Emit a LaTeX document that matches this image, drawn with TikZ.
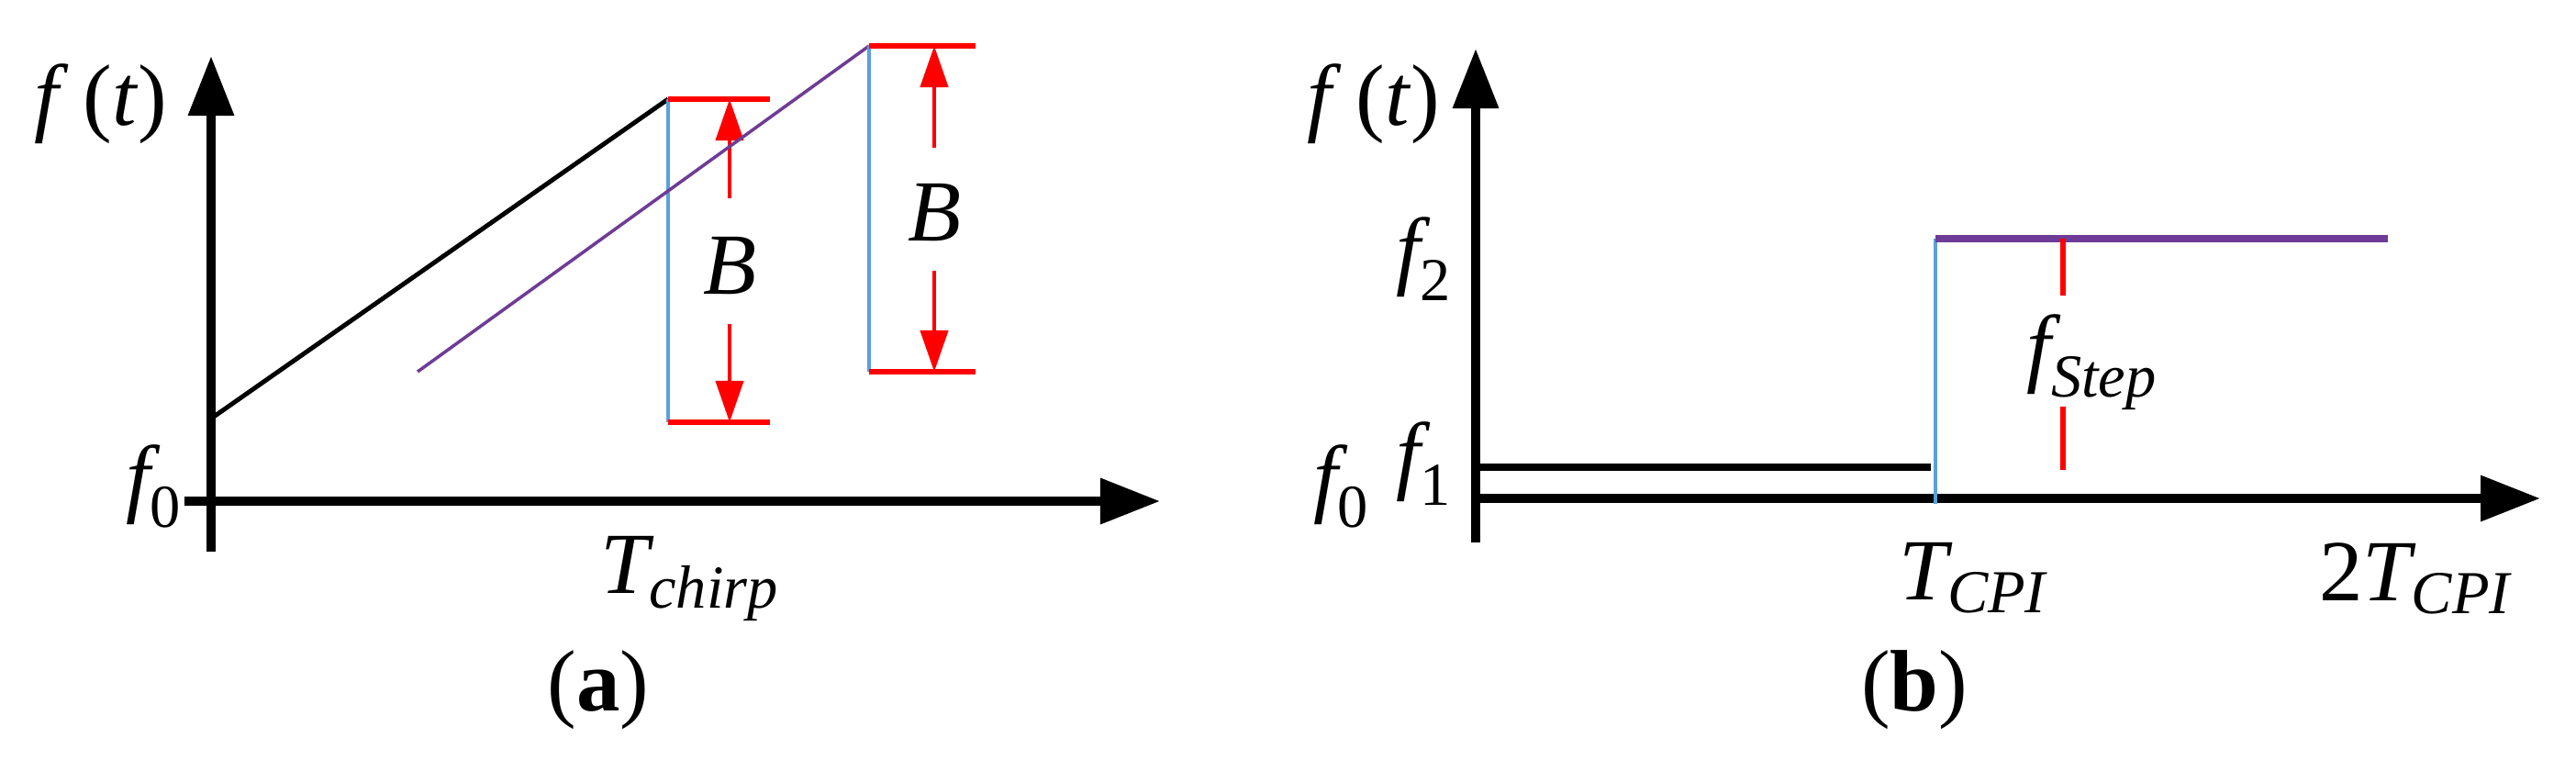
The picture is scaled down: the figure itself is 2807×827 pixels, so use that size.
\documentclass[tikz,border=0pt]{standalone}
\usepackage{amsmath}
\usepackage{fontspec}
\setmainfont{Liberation Serif}
\usetikzlibrary{arrows.meta}
\tikzset{
 axis/.style={line width=2.8pt,-{Triangle[length=0.65cm,width=0.48cm]}},
 redarr/.style={red,line width=1.2pt,-{Triangle[length=0.45cm,width=0.3cm]}},
 redbar/.style={red,line width=1.6pt},
 blueln/.style={color={rgb,255:red,90;green,160;blue,220},line width=1.1pt},
 purpln/.style={color={rgb,255:red,110;green,60;blue,150},line width=1pt},
 lbl/.style={font=\fontsize{27}{32}\selectfont,inner sep=0pt},
 captext/.style={font=\fontsize{27}{32}\selectfont,inner sep=0pt}
}
\begin{document}
\begin{tikzpicture}[x=0.01cm,y=-0.01cm]
\useasboundingbox (0,0) rectangle (2807,827);
% ---- panel (a)
\coordinate (ay0) at (230,601); \coordinate (ay1) at (230,61);
\coordinate (ax0) at (201,546); \coordinate (ax1) at (1264,546);
\draw[axis] (ay0) -- (ay1);
\draw[axis] (ax0) -- (ax1);
\coordinate (k0) at (230,456); \coordinate (k1) at (728,108);
\draw[line width=1.4pt] (k0) -- (k1);
\coordinate (kb) at (728,460);
\draw[blueln] (k1) -- (kb);
\coordinate (r1a) at (839,108); \coordinate (r1b) at (839,460);
\draw[redbar] (k1) -- (r1a); \draw[redbar] (kb) -- (r1b);
\coordinate (a1s) at (795,216); \coordinate (a1e) at (795,108);
\coordinate (a1t) at (795,353); \coordinate (a1f) at (795,460);
\draw[redarr] (a1s) -- (a1e); \draw[redarr] (a1t) -- (a1f);
\node[lbl] (B1) at (795,290) {\textit{B}};
\coordinate (p0) at (455,405); \coordinate (p1) at (947,50);
\draw[purpln] (p0) -- (p1);
\coordinate (pb) at (947,405);
\draw[blueln] (p1) -- (pb);
\coordinate (r2a) at (1063,50); \coordinate (r2b) at (1063,405);
\draw[redbar] (p1) -- (r2a); \draw[redbar] (pb) -- (r2b);
\coordinate (a2s) at (1018,161); \coordinate (a2e) at (1018,50);
\coordinate (a2t) at (1018,295); \coordinate (a2f) at (1018,405);
\draw[redarr] (a2s) -- (a2e); \draw[redarr] (a2t) -- (a2f);
\node[lbl] (B2) at (1018,232) {\textit{B}};
\node[lbl] (fta) at (110,113) {\textit{f}\,(\textit{t})};
\node[lbl] (f0a) at (168,530) {$\textit{f}_{\textrm{0}}$};
\node[lbl] (Tch) at (752,630) {$\textit{T}_{\textit{chirp}}$};
\node[captext] (capa) at (652,752) {(\textbf{a})};
% ---- panel (b)
\coordinate (by0) at (1608,591); \coordinate (by1) at (1608,53);
\coordinate (bx0) at (1608,543); \coordinate (bx1) at (2768,543);
\draw[axis] (by0) -- (by1);
\draw[axis] (bx0) -- (bx1);
\coordinate (l0) at (1608,509); \coordinate (l1) at (2104,509);
\draw[line width=2pt] (l0) -- (l1);
\coordinate (s0) at (2109,549); \coordinate (s1) at (2109,260);
\draw[blueln] (s0) -- (s1);
\coordinate (h1) at (2602,260);
\draw[purpln,line width=2.4pt] (s1) -- (h1);
\coordinate (d0) at (2248,260); \coordinate (d1) at (2248,322);
\coordinate (d2) at (2248,443); \coordinate (d3) at (2248,512);
\draw[redbar] (d0) -- (d1); \draw[redbar] (d2) -- (d3);
\node[lbl] (fstep) at (2280,395) {$\textit{f}_{\textit{Step}}$};
\node[lbl] (ftb) at (1497,113) {\textit{f}\,(\textit{t})};
\node[lbl] (f2) at (1552,282) {$\textit{f}_{\textrm{2}}$};
\node[lbl] (f1) at (1552,505) {$\textit{f}_{\textrm{1}}$};
\node[lbl] (f0b) at (1462,530) {$\textit{f}_{\textrm{0}}$};
\node[lbl] (Tc1) at (2150,630) {$\textit{T}_{\textit{CPI}}$};
\node[lbl] (Tc2) at (2632,630) {$\textrm{2}\textit{T}_{\textit{CPI}}$};
\node[captext] (capb) at (2086,752) {(\textbf{b})};
\end{tikzpicture}
\end{document}
